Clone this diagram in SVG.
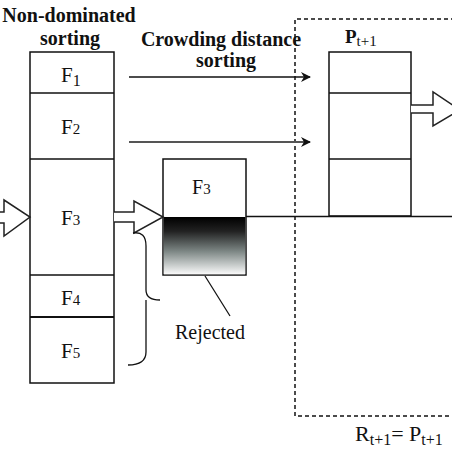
<svg xmlns="http://www.w3.org/2000/svg" width="452" height="452" viewBox="0 0 452 452">
<style>
.t{font-family:'Liberation Serif','DejaVu Serif',serif;fill:#111}
.b{font-weight:bold}
.box{fill:#fff;stroke:#111;stroke-width:1.5}
.ln{stroke:#111;stroke-width:1.3;fill:none}
.hollow{fill:#fff;stroke:#222;stroke-width:1.5;stroke-linejoin:miter}
</style>
<defs>
<linearGradient id="g" x1="0" y1="0" x2="0" y2="1">
<stop offset="0" stop-color="#000"/>
<stop offset="0.25" stop-color="#222"/>
<stop offset="0.6" stop-color="#7d8785"/>
<stop offset="1" stop-color="#fafafa"/>
</linearGradient>
<marker id="ah" markerWidth="10" markerHeight="10" refX="9" refY="5" orient="auto" markerUnits="userSpaceOnUse">
<path d="M0,0 L10,5 L0,10 L3,5 Z" fill="#111"/>
</marker>
</defs>
<rect width="452" height="452" fill="#fff"/>

<g id="dashed-region">
<path d="M455,19 H295 V416 H455" fill="none" stroke="#111" stroke-width="1.5" stroke-dasharray="4,3"/>
</g>

<g id="titles">
<text class="t b" x="69" y="22" font-size="20" text-anchor="middle">Non-dominated</text>
<text class="t b" x="70" y="45" font-size="20" text-anchor="middle">sorting</text>
<text class="t b" x="221" y="46" font-size="20" text-anchor="middle">Crowding distance</text>
<text class="t b" x="226" y="67" font-size="20" text-anchor="middle">sorting</text>
</g>

<g id="fronts">
<rect class="box" x="30" y="52" width="84" height="331"/>
<line class="ln" x1="30" y1="93" x2="114" y2="93"/>
<line class="ln" x1="30" y1="159" x2="114" y2="159"/>
<line class="ln" x1="30" y1="275" x2="114" y2="275"/>
<line x1="30" y1="317" x2="114" y2="317" stroke="#111" stroke-width="2.2"/>
<text class="t" x="61" y="82" font-size="21">F<tspan font-size="16" dy="4">1</tspan></text>
<text class="t" x="61" y="134" font-size="21">F<tspan font-size="15">2</tspan></text>
<text class="t" x="61" y="225" font-size="21">F<tspan font-size="15">3</tspan></text>
<text class="t" x="61" y="305" font-size="21">F<tspan font-size="15">4</tspan></text>
<text class="t" x="61" y="358" font-size="21">F<tspan font-size="15">5</tspan></text>
</g>

<g id="f3-split">
<rect class="box" x="163" y="159" width="83" height="116"/>
<rect x="163.75" y="217" width="81.5" height="57.25" fill="url(#g)"/>
<text class="t" x="192" y="194" font-size="20">F<tspan font-size="15">3</tspan></text>
</g>

<g id="next-pop">
<rect class="box" x="329" y="52" width="82" height="164"/>
<line class="ln" x1="329" y1="93" x2="411" y2="93"/>
<line class="ln" x1="329" y1="159" x2="411" y2="159"/>
<text class="t b" x="345" y="43" font-size="19">P<tspan font-size="15" font-weight="normal" dy="3">t+1</tspan></text>
</g>

<g id="connectors">
<line class="ln" x1="129" y1="77" x2="310" y2="77" stroke-width="1.6" marker-end="url(#ah)"/>
<line x1="129" y1="142" x2="310" y2="142" stroke="#555" stroke-width="1.8" marker-end="url(#ah)"/>
<line class="ln" x1="246" y1="216.5" x2="452" y2="216.5"/>
<path class="hollow" d="M-5,212 H4 V200 L30,217 L4,236 V223 H-5"/>
<path class="hollow" d="M114,212 H134 V201 L163,217 L134,233 V222 H114"/>
<path class="hollow" d="M411,105 H433 V92 L460,110 L433,126 V113 H411"/>
<path class="ln" d="M133,233 Q146,231 146,246 V290 Q146,300 160,300 M146,300 Q146,300 146,310 V352 Q146,365 128,365" stroke-width="1.4"/>
<line class="ln" x1="205" y1="276" x2="230" y2="316"/>
</g>

<g id="labels">
<text class="t" x="175" y="339" font-size="20">Rejected</text>
<text class="t" x="355" y="441" font-size="22">R<tspan font-size="16" dy="4">t+1</tspan><tspan dy="-4">= P</tspan><tspan font-size="16" dy="4">t+1</tspan></text>
</g>
</svg>
